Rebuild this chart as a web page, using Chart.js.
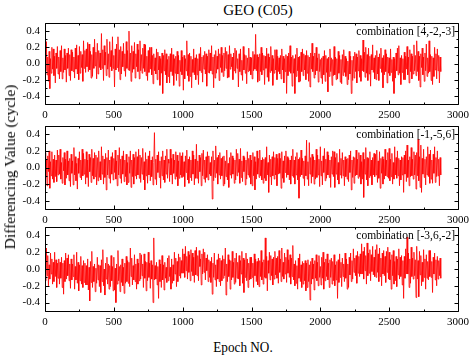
<!DOCTYPE html>
<html>
<head>
<meta charset="utf-8">
<script src="https://cdn.jsdelivr.net/npm/chart.js@4/dist/chart.umd.min.js"></script>
<style>
  html,body{margin:0;padding:0;background:#fff;}
  body{width:474px;height:356px;position:relative;overflow:hidden;font-family:"Liberation Serif","Times New Roman",serif;color:#000;}
  canvas{position:absolute;left:0;}
  #title{position:absolute;top:1px;left:0;width:516px;text-align:center;font-size:15px;line-height:18px;}
  #xtitle{position:absolute;top:338px;left:243px;font-size:15px;line-height:18px;white-space:nowrap;transform:translateX(-50%) scaleX(0.88);}
  #ytitle{position:absolute;left:10px;top:167px;transform:translate(-50%,-50%) rotate(-90deg);white-space:nowrap;font-size:15.5px;line-height:18px;}
</style>
</head>
<body>
<div id="title">GEO (C05)</div>
<canvas id="c1" width="474" height="122" style="top:0px;width:474px;height:122px"></canvas>
<canvas id="c2" width="474" height="119" style="top:108px;width:474px;height:119px"></canvas>
<canvas id="c3" width="474" height="119" style="top:210px;width:474px;height:119px"></canvas>
<div id="ytitle">Differencing Value (cycle)</div>
<div id="xtitle">Epoch NO.</div>
<script>
// ---- data (one sample every 5 epochs) ----
const epochStep = 5;
const combinations = ["combination [4,-2,-3]", "combination [-1,-5,6]", "combination [-3,6,-2]"];
const xTicks = [0, 500, 1000, 1500, 2000, 2500, 3000];
const xMinorTicks = [250, 750, 1250, 1750, 2250, 2750];
const yTicks = [-0.4, -0.2, 0.0, 0.2, 0.4];
const yMinorTicks = [-0.5, -0.3, -0.1, 0.1, 0.3, 0.5];

const series1 = [
 .12,-.09,.27,-.14,.08,-.22,.15,-.31,.06,-.12,.20,-.07,.18,-.15,.09,-.24,.13,-.06,.21,-.13,
 .08,-.19,.16,-.10,.22,-.19,.07,-.11,.18,-.08,.10,-.23,.13,-.06,.19,-.15,.11,-.21,.17,-.09,
 .14,-.10,.08,-.18,.19,-.07,.23,-.13,.10,-.20,.21,-.12,.15,-.05,.11,-.22,.28,-.06,.16,-.11,
 .18,-.04,.26,-.10,.24,-.08,.15,-.18,.11,-.16,.20,-.06,.30,-.03,.14,-.19,.25,-.13,.16,-.05,
 .13,-.08,.37,-.06,.17,-.21,.22,-.02,.14,-.15,.30,-.07,.12,-.17,.27,-.04,.16,-.09,.33,-.06,
 .10,-.29,.18,-.08,.24,-.05,.33,-.10,.17,-.20,.21,-.13,.15,-.04,.25,-.09,.12,-.16,.27,-.06,
 .16,-.08,.40,-.09,.13,-.22,.22,-.11,.15,-.07,.26,-.18,.12,-.04,.24,-.10,.17,-.19,.28,-.09,
 .11,-.12,.19,-.06,.24,-.10,.23,-.15,.09,-.21,.16,-.11,.20,-.07,.20,-.14,.10,-.25,.12,-.09,
 .07,-.13,.18,-.20,.14,-.08,.09,-.27,.06,-.12,.13,-.37,.10,-.09,.17,-.14,.12,-.24,.05,-.16,
 .09,-.24,.12,-.10,.19,-.15,.11,-.27,.06,-.12,.09,-.21,.15,-.13,.10,-.28,.04,-.10,.16,-.14,
 .08,-.33,.10,-.19,.06,-.09,.28,-.15,.11,-.22,.13,-.16,.09,-.30,.05,-.11,.18,-.14,.07,-.20,
 .11,-.14,.06,-.26,.12,-.09,.20,-.11,.08,-.23,.10,-.07,.15,-.13,.12,-.28,.09,-.11,.17,-.12,
 .13,-.09,.22,-.13,.08,-.30,.11,-.18,.16,-.12,.09,-.07,.18,-.21,.12,-.05,.20,-.11,.10,-.16,
 .13,-.09,.20,-.06,.15,-.18,.11,-.17,.22,-.07,.12,-.04,.08,-.20,.13,-.09,.19,-.12,.16,-.06,
 .06,-.29,.12,-.10,.18,-.14,.04,-.21,.21,-.08,.11,-.12,.10,-.25,.07,-.10,.19,-.09,.08,-.14,
 .07,-.19,.15,-.09,.11,-.07,.36,-.09,.11,-.23,.08,-.21,.12,-.10,.20,-.14,.13,-.08,.10,-.26,
 .09,-.06,.19,-.17,.12,-.22,.08,-.11,.21,-.09,.10,-.27,.06,-.12,.17,-.08,.17,-.20,.09,-.10,
 .07,-.13,.10,-.19,.18,-.08,.09,-.24,.06,-.10,.11,-.37,.09,-.15,.13,-.10,.22,-.12,.08,-.28,
 .10,-.12,.06,-.37,.11,-.16,.19,-.09,.08,-.23,.09,-.22,.14,-.10,.18,-.15,.12,-.08,.10,-.20,
 .16,-.12,.10,-.22,.08,-.29,.13,-.07,.25,-.10,.09,-.18,.13,-.14,.20,-.09,.07,-.23,.12,-.10,
 .05,-.18,.07,-.25,.09,-.14,.16,-.22,.10,-.11,.06,-.35,.08,-.16,.18,-.10,.07,-.27,.05,-.15,
 .21,-.14,.08,-.20,.06,-.19,.15,-.12,.10,-.23,.05,-.25,.11,-.15,.17,-.11,.09,-.16,.06,-.26,
 .03,-.20,.15,-.13,.09,-.37,.04,-.21,.09,-.18,.14,-.10,.12,-.24,.08,-.09,.16,-.17,.10,-.22,
 .06,-.09,.29,-.10,.14,-.17,.20,-.12,.11,-.21,.19,-.13,.09,-.28,.11,-.08,.23,-.11,.07,-.19,
 .10,-.20,.16,-.13,.08,-.21,.12,-.06,.19,-.11,.07,-.30,.10,-.14,.17,-.10,.12,-.24,.08,-.12,
 .07,-.15,.18,-.11,.05,-.22,.08,-.37,.06,-.18,.13,-.09,.19,-.14,.22,-.12,.07,-.26,.10,-.11,
 .06,-.20,.14,-.20,.09,-.07,.21,-.14,.08,-.24,.17,-.10,.12,-.19,.09,-.13,.23,-.09,.10,-.15,
 .28,-.10,.15,-.21,.09,-.29,.12,-.05,.19,-.14,.08,-.22,.13,-.09,.24,-.16,.07,-.12,.28,-.10,
 .11,-.21,.09,-.26,.07,-.16,.20,-.08,.12,-.19,.18,-.09,.10,-.24,.08,-.10
];
const series2 = [
 .18,-.12,.09,-.22,.14,-.05,.20,-.25,.07,-.10,.19,-.14,.10,-.18,.15,-.11,.09,-.17,.21,-.09,
 .15,-.08,.22,-.14,.06,-.19,.12,-.04,.18,-.21,.10,-.13,.20,-.09,.08,-.16,.11,-.23,.16,-.07,
 .08,-.21,.24,-.09,.13,-.16,.05,-.26,.11,-.07,.19,-.12,.09,-.15,.22,-.10,.17,-.08,.10,-.20,
 .19,-.12,.09,-.23,.16,-.05,.12,-.18,.22,-.10,.11,-.14,.18,-.11,.15,-.21,.12,-.16,.20,-.12,
 .07,-.15,.25,-.08,.14,-.20,.10,-.12,.17,-.27,.12,-.09,.21,-.13,.09,-.19,.13,-.08,.18,-.15,
 .11,-.06,.21,-.14,.08,-.22,.15,-.09,.24,-.13,.10,-.19,.14,-.08,.20,-.17,.09,-.11,.16,-.21,
 .06,-.18,.13,-.07,.20,-.24,.09,-.11,.16,-.20,.12,-.10,.19,-.14,.13,-.09,.22,-.13,.15,-.18,
 .12,-.08,.23,-.15,.07,-.27,.18,-.10,.10,-.19,.14,-.09,.20,-.16,.09,-.11,.13,-.21,.06,.42,
 -.14,.10,-.21,.15,-.06,.19,-.12,.08,-.25,.13,-.10,.20,-.15,.09,-.18,.14,-.08,.22,-.13,.10,
 .05,-.17,.22,-.09,.11,-.20,.16,-.07,.09,-.14,.19,-.11,.15,-.22,.08,-.13,.18,-.09,.14,-.12,
 .18,-.11,.07,-.23,.14,-.06,.21,-.15,.10,-.19,.13,-.12,.09,-.16,.20,-.08,.15,-.21,.10,-.13,
 .28,-.13,.08,-.19,.15,-.05,.12,-.22,.17,-.10,.21,-.14,.09,-.18,.13,-.12,.19,-.15,.14,-.08,
 .06,-.10,.13,-.38,.20,-.16,.09,-.12,.26,-.07,.12,-.20,.15,-.09,.18,-.14,.11,-.10,.13,-.22,
 .14,-.20,.08,-.11,.21,-.15,.05,-.24,.12,-.09,.18,-.13,.14,-.08,.11,-.19,.09,-.15,.22,-.10,
 .17,-.06,.10,-.19,.23,-.12,.08,-.17,.14,-.05,.12,-.21,.09,-.14,.19,-.09,.11,-.12,.15,-.20,
 .09,-.22,.18,-.10,.13,-.27,.07,-.14,.20,-.08,.11,-.12,.21,-.10,.09,-.15,.12,-.19,.10,-.13,
 .12,-.16,.25,-.09,.06,-.30,.15,-.11,.10,-.21,.13,-.10,.19,-.14,.12,-.09,.16,-.22,.11,-.08,
 .17,-.07,.11,-.25,.19,-.13,.08,-.18,.14,-.06,.20,-.12,.13,-.09,.11,-.15,.09,-.20,.14,-.10,
 .22,-.12,.09,-.20,.13,-.09,.18,-.15,.10,-.37,.12,-.11,.21,-.09,.11,-.13,.08,-.22,.14,-.10,
 .33,-.14,.07,-.22,.30,-.08,.12,-.19,.16,-.11,.13,-.20,.09,-.14,.22,-.12,.15,-.09,.10,-.23,
 .25,-.10,.08,-.21,.14,-.06,.23,-.16,.10,-.13,.19,-.09,.15,-.12,.09,-.24,.13,-.08,.20,-.11,
 .19,-.24,.12,-.08,.17,-.15,.06,-.20,.22,-.09,.11,-.13,.18,-.10,.09,-.22,.13,-.11,.10,-.14,
 .11,-.17,.15,-.06,.20,-.27,.09,-.12,.13,-.19,.12,-.10,.21,-.09,.10,-.13,.18,-.11,.15,-.20,
 .07,-.14,.18,-.36,.10,-.08,.24,-.15,.12,-.22,.11,-.12,.19,-.10,.09,-.21,.12,-.09,.17,-.11,
 .16,-.09,.21,-.18,.08,-.13,.19,-.25,.11,-.07,.13,-.20,.10,-.14,.22,-.10,.09,-.11,.18,-.13,
 .23,-.16,.10,-.11,.17,-.20,.06,-.14,.25,-.09,.12,-.13,.20,-.10,.11,-.22,.09,-.15,.13,-.09,
 .12,-.30,.15,-.08,.20,-.17,.27,-.12,.09,-.22,.13,-.11,.24,-.10,.10,-.14,.19,-.09,.15,-.26,
 .18,-.10,.34,-.16,.13,-.24,.27,-.30,.11,-.08,.22,-.12,.10,-.21,.13,-.09,.25,-.11,.16,-.19,
 .21,-.14,.09,-.19,.16,-.07,.25,-.18,.12,-.11,.20,-.10,.10,-.22,.12,-.09
];
const series3 = [
 .10,-.14,.25,-.08,.16,-.20,.05,-.12,.19,-.06,.12,-.18,.08,-.15,.20,-.09,.11,-.22,.07,-.11,
 .12,-.18,.08,-.11,.14,-.22,.07,-.30,.10,-.15,.19,-.12,.13,-.08,.17,-.14,.06,-.23,.12,-.13,
 .06,-.09,.17,-.24,.03,-.13,.20,-.17,.08,-.26,.05,-.14,.15,-.18,.04,-.22,.10,-.16,.07,-.19,
 .04,-.19,.12,-.25,.02,-.38,.09,-.16,.21,-.22,.03,-.15,.06,-.27,.01,-.17,.14,-.13,.05,-.21,
 .04,-.28,.11,-.15,.23,-.20,.00,-.31,.07,-.12,.14,-.18,.06,-.24,.04,-.21,.16,-.14,.03,-.26,
 .14,-.25,.01,-.40,.06,-.18,.22,-.14,.03,-.27,.05,-.16,.12,-.20,.02,-.29,.07,-.17,.15,-.15,
 .10,-.17,.08,-.21,.25,-.09,.13,-.19,.04,-.13,.17,-.15,.06,-.24,.12,-.18,.07,-.14,.19,-.12,
 .17,-.08,.06,-.22,.18,-.11,.09,-.26,.08,-.14,.20,-.10,.07,-.23,.10,-.12,.05,-.40,.37,-.13,
 .04,-.12,.08,-.19,.03,-.35,.11,-.15,.06,-.22,.16,-.13,.05,-.25,.08,-.11,.02,-.16,.13,-.14,
 .16,-.09,.02,-.24,.12,-.17,.05,-.14,.20,-.06,.13,-.21,.09,-.15,.18,-.08,.14,-.11,.10,-.05,
 .24,-.05,.18,-.10,.27,-.02,.15,-.12,.21,-.04,.17,-.14,.23,-.03,.19,-.08,.14,-.16,.22,-.07,
 .26,-.08,.16,-.14,.22,.03,.12,-.19,.18,-.06,.24,-.04,.20,-.13,.13,-.02,.17,-.15,.11,-.10,
 .09,-.16,.14,-.30,.07,-.10,.19,-.13,.05,-.21,.11,-.12,.18,-.15,.13,-.20,.10,-.14,.16,-.11,
 .12,-.08,.25,-.31,.06,-.15,.17,-.09,.11,-.24,.10,-.13,.21,-.10,.08,-.18,.13,-.16,.19,-.11,
 .08,-.12,.16,-.20,.10,-.06,.21,-.17,.13,-.28,.11,-.10,.19,-.14,.12,-.22,.07,-.13,.14,-.12,
 .14,-.10,.07,-.22,.18,-.08,.12,-.15,.09,-.19,.13,-.21,.10,-.09,.22,-.13,.08,-.18,.11,-.10,
 .37,-.11,.15,-.26,.10,-.05,.20,-.13,.16,-.08,.12,-.19,.14,-.12,.21,-.07,.13,-.11,.15,-.17,
 .22,-.04,.12,-.15,.25,-.09,.08,-.12,.19,-.06,.14,-.16,.23,-.05,.11,-.10,.17,-.18,.13,-.09,
 .28,-.13,.06,-.20,.10,-.17,.04,-.24,.13,-.11,.18,-.15,.05,-.22,.09,-.18,.07,-.14,.10,-.26,
 .07,-.22,.11,-.15,.05,-.37,.09,-.18,.13,-.12,.06,-.25,.10,-.11,.17,-.14,.08,-.20,.16,-.10,
 .03,-.19,.14,-.11,.20,-.24,.08,-.14,.12,-.09,.18,-.13,.07,-.22,.11,-.10,.13,-.18,.09,-.14,
 .17,-.20,.05,-.13,.09,-.35,.11,-.16,.18,-.10,.08,-.21,.13,-.09,.06,-.15,.19,-.11,.12,-.24,
 .06,-.22,.14,-.07,.19,-.15,.10,-.12,.24,-.04,.13,-.08,.16,-.17,.21,-.05,.15,-.09,.18,-.06,
 .30,-.06,.21,-.12,.26,-.02,.16,-.18,.31,-.08,.19,-.05,.23,-.14,.17,-.03,.27,-.07,.14,-.09,
 .23,-.10,.29,-.04,.18,-.15,.25,-.09,.13,-.20,.19,-.06,.22,-.08,.15,-.16,.21,-.04,.26,-.12,
 .20,-.13,.11,-.24,.17,-.08,.22,-.18,.09,-.14,.15,-.21,.12,-.07,.24,-.12,.14,-.09,.16,-.19,
 .10,-.35,.15,-.11,.24,-.06,.38,-.06,.19,-.22,.12,-.17,.26,-.09,.13,-.12,.20,-.08,.11,-.34,
 .27,-.12,.10,-.33,.21,-.07,.16,-.20,.08,-.15,.23,-.10,.12,-.24,.17,-.11,.09,-.13,.22,-.09,
 .22,-.10,.09,-.28,.14,-.06,.19,-.13,.11,-.20,.15,-.12,.10,-.08,.13,-.11
];

const FONT = '"Liberation Serif", "Times New Roman", serif';

const framePlugin = {
  id: 'frameTicks',
  afterDraw(chart, args, opts) {
    const ctx = chart.ctx, a = chart.chartArea, x = chart.scales.x, y = chart.scales.y;
    ctx.save();
    ctx.strokeStyle = '#000';
    ctx.lineWidth = 1;
    ctx.beginPath();
    const L = Math.round(a.left) + 0.5, R = Math.round(a.right) + 0.5;
    const T = Math.round(a.top) + 0.5, B = Math.round(a.bottom) + 0.5;
    ctx.rect(L, T, R - L, B - T);
    const vt = (v, len) => {
      const px = Math.round(x.getPixelForValue(v)) + 0.5;
      ctx.moveTo(px, B); ctx.lineTo(px, B - len);
      ctx.moveTo(px, T); ctx.lineTo(px, T + len);
    };
    const ht = (v, len) => {
      const py = Math.round(y.getPixelForValue(v)) + 0.5;
      ctx.moveTo(L, py); ctx.lineTo(L + len, py);
      ctx.moveTo(R, py); ctx.lineTo(R - len, py);
    };
    xTicks.forEach(v => vt(v, 4));
    xMinorTicks.forEach(v => vt(v, 2));
    yTicks.forEach(v => ht(v, 4));
    yMinorTicks.forEach(v => ht(v, 2));
    ctx.stroke();
    ctx.fillStyle = '#000';
    ctx.font = '11.5px ' + FONT;
    ctx.textAlign = 'right';
    ctx.textBaseline = 'middle';
    ctx.fillText(opts.label, a.right - 3, a.top + 9);
    ctx.restore();
  }
};

function makeChart(id, values, label, padTop) {
  const pts = values.map((v, i) => ({ x: i * epochStep, y: v }));
  return new Chart(document.getElementById(id), {
    type: 'line',
    data: { datasets: [{
      data: pts,
      borderColor: 'rgba(255,0,0,0.8)',
      borderWidth: 1,
      pointRadius: 0,
      tension: 0,
      fill: false
    }]},
    options: {
      responsive: false,
      animation: false,
      events: [],
      layout: { padding: { top: padTop, right: 14, bottom: 0, left: 0 } },
      plugins: {
        legend: { display: false },
        tooltip: { enabled: false },
        frameTicks: { label: label }
      },
      scales: {
        x: {
          type: 'linear', min: 0, max: 3000,
          afterBuildTicks: s => { s.ticks = xTicks.map(v => ({ value: v })); },
          afterFit: s => { s.height = 18; },
          grid: { display: false, drawTicks: false },
          border: { display: false },
          ticks: { color: '#000', font: { family: FONT, size: 11 }, padding: 5, maxRotation: 0, autoSkip: false,
                   callback: v => String(v) }
        },
        y: {
          type: 'linear', min: -0.5, max: 0.5,
          afterBuildTicks: s => { s.ticks = yTicks.map(v => ({ value: v })); },
          afterFit: s => { s.width = 45; },
          grid: { display: false, drawTicks: false },
          border: { display: false },
          ticks: { color: '#000', font: { family: FONT, size: 11 }, padding: 5,
                   callback: v => Number(v).toFixed(1) }
        }
      }
    },
    plugins: [framePlugin]
  });
}

makeChart('c1', series1, combinations[0], 23);
makeChart('c2', series2, combinations[1], 18);
makeChart('c3', series3, combinations[2], 17);
</script>
</body>
</html>
